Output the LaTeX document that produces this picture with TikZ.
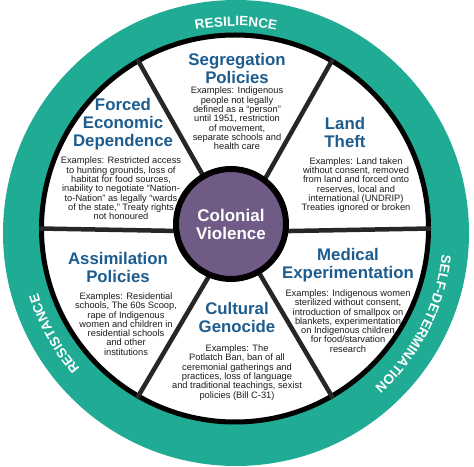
\documentclass[tikz,border=0pt]{standalone}
\usepackage{fontspec}
\setmainfont{Liberation Sans}
\usetikzlibrary{decorations.text}
\usepackage{xcolor}
\definecolor{ringteal}{HTML}{1FAB94}
\definecolor{corepurple}{HTML}{6F5B86}
\definecolor{headblue}{HTML}{1D5C8E}
\definecolor{spokegray}{HTML}{262626}
\definecolor{bodygray}{HTML}{1C1C1C}
\newcommand{\ringfont}{\bfseries\fontsize{13.5}{14}\selectfont\color{white}}
\newcommand{\ringword}[3] {
    \path[decorate, decoration={text along path, text align=center,
        text={|\ringfont|#3}}]
        (236,233) ++(#1:207) arc[start angle=#1, end angle=#2, radius=207];
}
\tikzset{
    heading/.style={align=center, inner sep=0pt, text=headblue,
        font=\bfseries\fontsize{16.8}{18}\selectfont},
    examples/.style={align=center, inner sep=0pt, text=bodygray,
        font=\fontsize{9.3}{9.3}\selectfont},
    rim/.style={draw=black, line width=5pt, fill=white, circle, minimum size=387pt},
    core/.style={draw=black, line width=6pt, fill=corepurple, circle, minimum size=110pt,
        text=white, align=center, font=\bfseries\fontsize{17}{18}\selectfont},
    spoke/.style={draw=spokegray, line width=4.5pt}
}

\begin{document}
\begin{tikzpicture}[x=1pt,y=1pt]
    \useasboundingbox (0,0) rectangle (474,466);
    % teal ring and its words
    \fill[ringteal] (236,233) circle (233);
    \ringword{130}{50}{RESILIENCE}
    \ringword{249}{169}{RESISTANCE}
    \ringword{23}{-77}{SELF-DETERMINATION}
    % white wheel
    \node[rim] (rim) at (235,237.5) {};
    \coordinate (hub) at (235,234);
    \foreach \a in {0,60,...,300}
        \draw[spoke] (hub) -- (rim.\a);
    \node[core] (core) at (231,242) {Colonial\\Violence};
    % sectors
    \node[heading]  (segr)    at (237,398)   {Segregation\\Policies};
    \node[examples] (segrx)   at (237,347.5) {Examples: Indigenous\\people not legally\\defined as a “person”\\until 1951, restriction\\of movement,\\separate schools and\\health care};
    \node[heading]  (land)    at (345,334)   {Land\\Theft};
    \node[examples] (landx)   at (356,281)   {Examples: Land taken\\without consent, removed\\from land and forced onto\\reserves, local and\\international (UNDRIP)\\Treaties ignored or broken};
    \node[heading]  (forced)  at (123,341.5) {Forced\\Economic\\Dependence};
    \node[examples] (forcedx) at (121,277.5) {Examples: Restricted access\\to hunting grounds, loss of\\habitat for food sources,\\inability to negotiate “Nation-\\to-Nation” as legally “wards\\of the state,” Treaty rights\\not honoured};
    \node[heading]  (assim)   at (118,199)   {Assimilation\\Policies};
    \node[examples] (assimx)  at (126,142)   {Examples: Residential\\schools, The 60s Scoop,\\rape of Indigenous\\women and children in\\residential schools\\and other\\institutions};
    \node[heading]  (cult)    at (237,148.5) {Cultural\\Genocide};
    \node[examples] (cultx)   at (237,93.5)  {Examples: The\\Potlatch Ban, ban of all\\ceremonial gatherings and\\practices, loss of language\\and traditional teachings, sexist\\policies (Bill C-31)};
    \node[heading]  (med)     at (348,201)   {Medical\\Experimentation};
    \node[examples] (medx)    at (348,145)   {Examples: Indigenous women\\sterilized without consent,\\introduction of smallpox on\\blankets, experimentation\\on Indigenous children\\for food/starvation\\research};
\end{tikzpicture}
\end{document}
